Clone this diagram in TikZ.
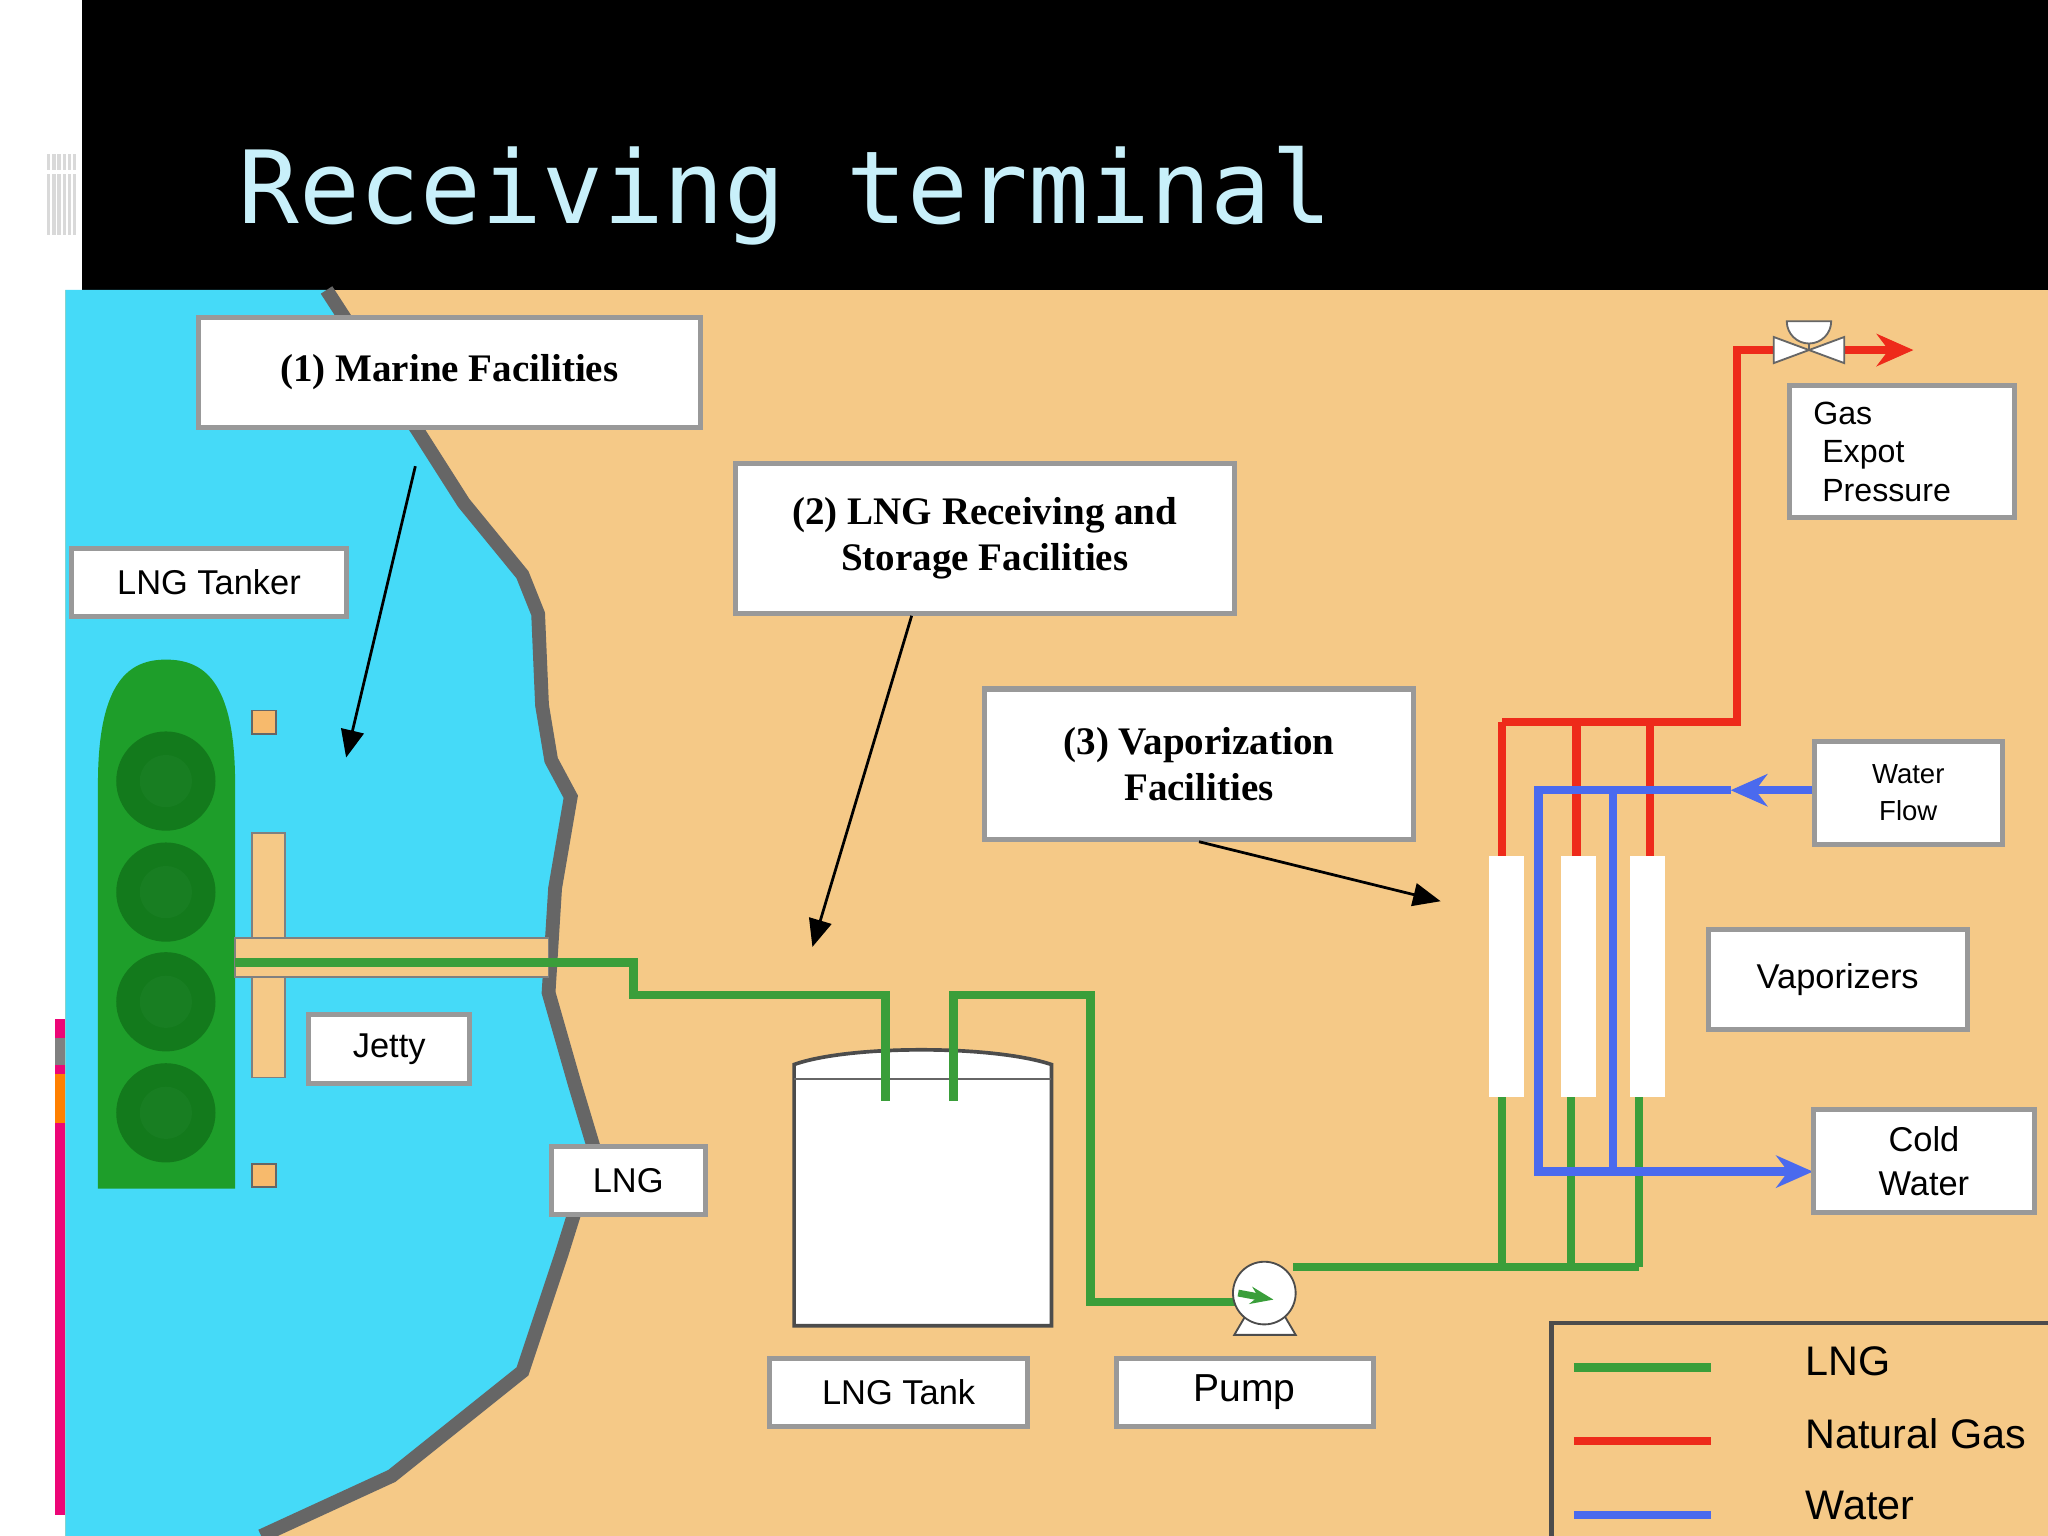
\documentclass[tikz,border=0pt]{standalone}
\usepackage{fontspec}
\setmainfont{Liberation Sans}
\newfontfamily\serifb{Liberation Serif}
\newfontfamily\monof{DejaVu Sans Mono}
\usetikzlibrary{arrows.meta}
\definecolor{tan}{HTML}{F5C987}
\definecolor{sea}{HTML}{45DAF8}
\definecolor{shipg}{HTML}{1E9E2A}
\definecolor{shipd}{HTML}{137A1C}
\definecolor{lngg}{HTML}{3A9E3A}
\definecolor{gasr}{HTML}{EE2A1A}
\definecolor{watb}{HTML}{4A6AEE}
\definecolor{titlec}{HTML}{C8F0FA}
\begin{document}
\begin{tikzpicture}[x=0.1mm,y=-0.1mm,
 box/.style={draw=gray!80,line width=1.1pt,fill=white,inner sep=0pt,align=center},
 bf/.style={font=\serifb\fontsize{8.5}{10}\selectfont\bfseries},
 sf/.style={font=\fontsize{7.5}{8.5}\selectfont},
 lng/.style={lngg,line width=1.8pt},
 gas/.style={gasr,line width=1.8pt},
 wat/.style={watb,line width=1.8pt},
 arr/.style={-{Triangle[length=6pt,width=5pt]},line width=0.6pt}]
\useasboundingbox[fill=white] (0,0) rectangle (1568,1176);
\fill[black] (63,0) rectangle (1568,222);
\foreach \x in {36,40,44,48,52,56} \fill[gray!30] (\x,118) rectangle ++(2.5,62);
\fill[white] (36,130) rectangle (58,133);
\fill[magenta!80!red] (42,780) rectangle (50,1160);
\fill[orange] (42,822) rectangle (50,860);
\fill[gray] (42,795) rectangle (50,815);
\node[anchor=west,text=titlec,font=\monof\fontsize{22}{26}\selectfont] (title) at (170,150) {Receiving terminal};
% diagram
\fill[tan] (50,222) rectangle (1568,1176);
\fill[sea] (50,222) -- (250,222) -- (320,330) -- (355,385) -- (400,440) -- (412,470) -- (415,540) -- (422,582) -- (437,610) -- (425,680) -- (420,760) -- (440,830) -- (455,880) -- (430,960) -- (400,1050) -- (300,1130) -- (200,1176) -- (50,1176) -- cycle;
\draw[gray!80!black,line width=3pt] (250,222) -- (320,330) -- (355,385) -- (400,440) -- (412,470) -- (415,540) -- (422,582) -- (437,610) -- (425,680) -- (420,760) -- (440,830) -- (455,880) -- (430,960) -- (400,1050) -- (300,1130) -- (200,1176);
% ship
\fill[shipg] (75,910) -- (75,600) .. controls (75,520) and (100,505) .. (127,505) .. controls (155,505) and (180,520) .. (180,600) -- (180,910) -- cycle;
\foreach \y in {598,683,767,852} {\fill[shipd] (127,\y) circle (38); \fill[shipg!80!black] (127,\y) circle (20);}
\foreach \y in {553,900} \draw[fill=tan!80!orange,draw=black!60] (193,\y-9) rectangle ++(18,18);
% jetty
\draw[fill=tan,draw=gray] (193,638) rectangle (218,825);
\draw[fill=tan,draw=gray] (180,718) rectangle (420,748);
\fill[tan] (194,719) rectangle (217,747);
% tank
\draw[fill=white,draw=black!70,line width=0.8pt] (608,1015) -- (608,815) .. controls (650,800) and (760,800) .. (805,815) -- (805,1015) -- cycle;
\draw[black!60] (608,826) -- (805,826);
% vaporizer tubes
\foreach \x in {1140,1195,1248} \fill[white] (\x,655) rectangle ++(27,185);
% pipes LNG
\draw[lng] (180,737) -- (485,737) -- (485,762) -- (678,762) -- (678,843);
\draw[lng] (730,843) -- (730,762) -- (835,762) -- (835,997) -- (955,997);
\coordinate (pumpc) at (968,990);
\draw[lng] (990,970) -- (1255,970);
\foreach \x in {1150,1203,1255} \draw[lng] (\x,840) -- (\x,970);
% gas
\foreach \x in {1150,1207,1263} \draw[gas] (\x,655) -- (\x,553);
\draw[gas] (1150,553) -- (1330,553) -- (1330,268) -- (1358,268);
\coordinate (gasend) at (1465,268);
\draw[gas,-{Stealth[length=8pt,width=7pt]}] (1412,268) -- (gasend);
% valve
\draw[fill=white,draw=black!60] (1358,258) -- (1385,268) -- (1358,278) -- cycle;
\draw[fill=white,draw=black!60] (1412,258) -- (1385,268) -- (1412,278) -- cycle;
\draw[black!60] (1385,268) -- (1385,246);
\draw[fill=white,draw=black!60] (1368,246) arc (180:0:17) -- cycle;
% water
\draw[wat,{Stealth[length=8pt,width=7pt]}-] (1325,605) -- (1388,605);
\draw[wat] (1325,605) -- (1178,605) -- (1178,897) -- (1330,897);
\draw[wat] (1235,605) -- (1235,897);
\draw[wat,-{Stealth[length=8pt,width=7pt]}] (1320,897) -- (1388,897);
% pump
\draw[fill=white,draw=black!70] (945,1022) -- (955,1005) -- (982,1005) -- (992,1022) -- cycle;
\draw[fill=white,draw=black!70] (pumpc) circle (24);
\draw[lngg,line width=1.5pt,-{Stealth[length=5pt]}] (948,990) -- (975,995);
% boxes
\node[box,bf,minimum width=384*0.1mm,minimum height=84*0.1mm] (m1) at (344,285) {(1) Marine Facilities};
\node[box,sf,minimum width=210*0.1mm,minimum height=52*0.1mm] (tanker) at (160,446) {LNG Tanker};
\node[box,bf,minimum width=382*0.1mm,minimum height=115*0.1mm] (m2) at (754,412) {(2) LNG Receiving and\\Storage Facilities};
\node[box,bf,minimum width=328*0.1mm,minimum height=115*0.1mm] (m3) at (918,585) {(3) Vaporization\\Facilities};
\node[box,sf,minimum width=172*0.1mm,minimum height=101*0.1mm,align=left,font=\fontsize{7}{8.3}\selectfont] (gasb) at (1456,346) {Gas\\\ Expot\\\ Pressure\hspace*{3mm}};
\node[box,sf,minimum width=144*0.1mm,minimum height=79*0.1mm,font=\fontsize{6}{8}\selectfont] (water) at (1461,607) {Water\\Flow};
\node[box,sf,minimum width=198*0.1mm,minimum height=77*0.1mm] (vap) at (1407,750) {Vaporizers};
\node[box,sf,minimum width=169*0.1mm,minimum height=79*0.1mm,font=\fontsize{7.5}{9.5}\selectfont] (cold) at (1473,889) {Cold\\Water};
\node[box,sf,minimum width=123*0.1mm,minimum height=53*0.1mm] (jetty) at (298,803) {Jetty};
\node[box,sf,minimum width=118*0.1mm,minimum height=52*0.1mm] (lngb) at (481,904) {LNG};
\node[box,sf,minimum width=197*0.1mm,minimum height=52*0.1mm] (tankb) at (688,1066) {LNG Tank};
\node[box,sf,minimum width=197*0.1mm,minimum height=52*0.1mm,font=\fontsize{8.5}{10}\selectfont] (pumpb) at (953,1066) {Pump};
% pointer arrows
\coordinate (a1) at (265,580);
\coordinate (a2) at (622,725);
\coordinate (a3) at (1103,690);
\draw[arr] ([xshift=-26*0.1mm,yshift=-28*0.1mm]m1.south) -- (a1);
\draw[arr] ([xshift=-56*0.1mm]m2.south) -- (a2);
\draw[arr] (m3.south) -- (a3);
% legend
\draw[draw=black!70,line width=1pt] (1568,1013) -- (1188,1013) -- (1188,1176);
\coordinate (l1a) at (1205,1047); \coordinate (l1b) at (1310,1047);
\coordinate (l2a) at (1205,1103); \coordinate (l2b) at (1310,1103);
\coordinate (l3a) at (1205,1160); \coordinate (l3b) at (1310,1160);
\draw[lng] (l1a) -- (l1b); \draw[gas] (l2a) -- (l2b); \draw[wat] (l3a) -- (l3b);
\node[anchor=west,font=\fontsize{9}{10}\selectfont] (t1) at (1370,1042) {LNG};
\node[anchor=west,font=\fontsize{9}{10}\selectfont] (t2) at (1370,1098) {Natural Gas};
\node[anchor=west,font=\fontsize{9}{10}\selectfont] (t3) at (1370,1153) {Water};
\end{tikzpicture}
\end{document}
